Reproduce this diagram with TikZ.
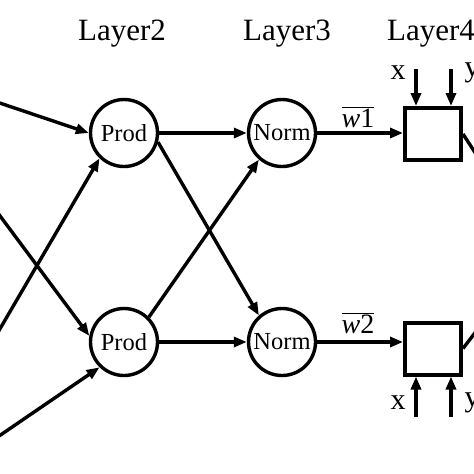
\documentclass[tikz,border=0pt]{standalone}
\usepackage{fontspec}
\setmainfont{Liberation Serif}
\usetikzlibrary{arrows.meta,calc}
\begin{document}
\begin{tikzpicture}[x=1pt,y=-1pt,
  conn/.style={line width=3.4pt,-{Triangle[length=13pt,width=10pt]}},
  plain/.style={line width=3.4pt},
  neuron/.style={circle,draw,line width=3.4pt,minimum size=67pt,inner sep=0pt,font=\fontsize{24.5}{25}\selectfont},
  rule/.style={rectangle,draw,line width=4pt,minimum width=56pt,minimum height=52pt,inner sep=0pt},
  layer/.style={font=\fontsize{31}{31}\selectfont},
  inlab/.style={font=\fontsize{30}{30}\selectfont},
  wlab/.style={font=\fontsize{28}{28}\selectfont}]
\useasboundingbox (0,0) rectangle (474,474);
\clip (0,0) rectangle (474,474);
% layer titles
\node[layer] (l2) at (122,34) {Layer2};
\node[layer] (l3) at (287,34) {Layer3};
\node[layer] (l4) at (431,34) {Layer4};
% nodes
\node[neuron] (p1) at (124,133) {Prod};
\node[neuron] (p2) at (124,342) {Prod};
\node[neuron] (n1) at (282,133) {Norm};
\node[neuron] (n2) at (282,342) {Norm};
\node[rule] (b1) at (433,134) {};
\node[rule] (b2) at (433,348.5) {};
% labels
\node[wlab] (w1) at (358,117) {$\overline{\mbox{\textit{w}1}}$};
\node[wlab] (w2) at (358,323) {$\overline{\mbox{\textit{w}2}}$};
\node[inlab] (x1) at (398,73) {x};
\node[inlab] (y1) at (472,73) {y};
\node[inlab] (x2) at (398,403) {x};
\node[inlab] (y2) at (472,403) {y};
% free ends
\coordinate (s1) at (-30,93);
\coordinate (s2) at (-20,363);
\coordinate (s3) at (-20,189);
\coordinate (s4) at (-20,449);
\coordinate (xa1) at (416,69);
\coordinate (ya1) at (451,69);
\coordinate (xa2) at (416,417);
\coordinate (ya2) at (451,417);
\coordinate (e1) at (500,191);
\coordinate (e2) at (500,300);
% left inputs
\draw[conn] (s1) -- (p1.west);
\draw[conn] (s2) -- (p1.226);
\draw[conn] (s3) -- (p2.170);
\draw[conn] (s4) -- (p2.226);
% layer 2 -> 3
\draw[conn] (p1) -- (n1);
\draw[conn] (p2) -- (n2);
\draw[conn] (p1.-15) -- (n2.131);
\draw[conn] (p2.45) -- (n1.229);
% layer 3 -> 4
\draw[conn] (n1) -- (n1 -| b1.west);
\draw[conn] (n2) -- (n2 -| b2.west);
% x, y inputs
\draw[conn] (xa1) -- (xa1 |- b1.north);
\draw[conn] (ya1) -- (ya1 |- b1.north);
\draw[conn] (xa2) -- (xa2 |- b2.south);
\draw[conn] (ya2) -- (ya2 |- b2.south);
% outputs
\draw[plain] (b1.east) -- (e1);
\draw[plain] (b2.east) -- (e2);
\end{tikzpicture}
\end{document}
